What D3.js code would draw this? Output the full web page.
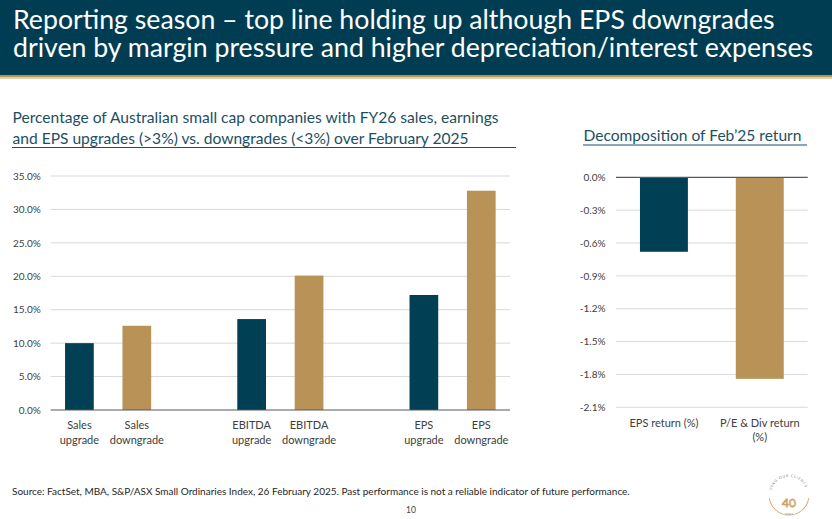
<!DOCTYPE html>
<html>
<head>
<meta charset="utf-8">
<script src="https://cdn.jsdelivr.net/npm/d3@7"></script>
<style>
  html, body { margin: 0; padding: 0; background: #ffffff; }
  svg { display: block; font-family: Lato, "Open Sans", sans-serif; }
</style>
</head>
<body>
<svg id="chart" width="832" height="519"></svg>
<script>
// ---------- DATA ----------
const titleLines = [
  "Reporting season \u2013 top line holding up although EPS downgrades",
  "driven by margin pressure and higher depreciation/interest expenses"
];
const leftSubtitle = [
  "Percentage of Australian small cap companies with FY26 sales, earnings",
  "and EPS upgrades (>3%) vs. downgrades (<3%) over February 2025"
];
const rightSubtitle = "Decomposition of Feb\u201925 return";

// left chart (blank entries are spacer slots between groups)
const leftCategories = ["Sales\nupgrade", "Sales\ndowngrade", "", "EBITDA\nupgrade", "EBITDA\ndowngrade", " ", "EPS\nupgrade", "EPS\ndowngrade"];
const leftValues     = [10.0, 12.6, null, 13.6, 20.1, null, 17.2, 32.8];
const leftTypes      = ["upgrade", "downgrade", null, "upgrade", "downgrade", null, "upgrade", "downgrade"];
const leftTicks      = [0, 5, 10, 15, 20, 25, 30, 35];

// right chart
const rightCategories = ["EPS return (%)", "P/E & Div return\n(%)"];
const rightValues     = [-0.68, -1.84];
const rightTypes      = ["upgrade", "downgrade"];
const rightTicks      = [0, -0.3, -0.6, -0.9, -1.2, -1.5, -1.8, -2.1];

const sourceText = "Source: FactSet, MBA, S&P/ASX Small Ordinaries Index, 26 February 2025. Past performance is not a reliable indicator of future performance.";
const pageNumber = "10";
const logoRing = "SERVING OUR CLIENTS FOR";
const logoNum = "40";
const logoWord = "years";

// ---------- STYLE ----------
const NAVY = "#003f54";
const GOLD = "#b89256";
const HEADER = "#003d52";
const SUBCOL = "#1d4f63";
const TXT = "#404040";
const GRID = "#d9d9d9";
const colorOf = t => t === "upgrade" ? NAVY : GOLD;
const pct = d => (Math.abs(d) < 1e-9 ? 0 : d).toFixed(1) + "%";

const svg = d3.select("#chart");

function fit(sel, target) {
  const n = sel.node();
  const fs = parseFloat(sel.attr("font-size"));
  const w = n.getComputedTextLength();
  if (w > 0) sel.attr("font-size", (fs * target / w).toFixed(2));
}

// ---------- HEADER ----------
svg.append("rect").attr("x", 0).attr("y", 0).attr("width", 832).attr("height", 75.5).attr("fill", HEADER);
svg.append("rect").attr("x", 0).attr("y", 75.5).attr("width", 832).attr("height", 2).attr("fill", "#b8925a");
svg.append("rect").attr("x", 0).attr("y", 77.5).attr("width", 832).attr("height", 1.5).attr("fill", "#e6d2ad");

// measure title size on a temp text, then draw both lines in one text element
const tmp = svg.append("text").attr("font-size", 27).text(titleLines[0]);
fit(tmp, 762);
const titleSize = tmp.attr("font-size");
tmp.remove();
const title = svg.append("text").attr("fill", "#ffffff").attr("font-size", titleSize);
title.selectAll("tspan").data(titleLines).join("tspan")
  .attr("x", 13).attr("y", (d, i) => 28.5 + i * 28.5).text(d => d);

// ---------- LEFT SUBTITLE ----------
const s1 = svg.append("text").attr("x", 12.5).attr("y", 122.5).attr("fill", SUBCOL)
  .attr("font-size", 15).text(leftSubtitle[0]);
fit(s1, 486);
svg.append("text").attr("x", 12.5).attr("y", 143.5).attr("fill", SUBCOL)
  .attr("font-size", s1.attr("font-size")).text(leftSubtitle[1]);
svg.append("line").attr("x1", 12).attr("x2", 516).attr("y1", 147.5).attr("y2", 147.5)
  .attr("stroke", SUBCOL).attr("stroke-width", 1.2);

// ---------- RIGHT SUBTITLE ----------
const rs = svg.append("text").attr("x", 583.5).attr("y", 140.5).attr("fill", SUBCOL)
  .attr("font-size", 15).text(rightSubtitle);
fit(rs, 218);
svg.append("line").attr("x1", 583).attr("x2", 807).attr("y1", 145).attr("y2", 145)
  .attr("stroke", SUBCOL).attr("stroke-width", 1.2);

// ---------- LEFT CHART ----------
const xL = d3.scaleBand().domain(leftCategories).range([50.7, 510]).paddingInner(0.5).paddingOuter(0.25);
const yL = d3.scaleLinear().domain([0, 35]).range([410, 176]);

const gL = svg.append("g");
gL.selectAll("line.grid").data(leftTicks.filter(d => d !== 0)).join("line")
  .attr("x1", 50.7).attr("x2", 510)
  .attr("y1", d => yL(d)).attr("y2", d => yL(d))
  .attr("stroke", GRID).attr("stroke-width", 1);

const axL = gL.append("g").attr("transform", "translate(50.7,0)")
  .call(d3.axisLeft(yL).tickValues(leftTicks).tickFormat(pct).tickSize(0).tickPadding(10));
axL.select(".domain").remove();
axL.selectAll("text").attr("font-size", 10).attr("fill", TXT).attr("font-family", "Lato, sans-serif");

const leftData = leftCategories.map((c, i) => ({ c, v: leftValues[i], t: leftTypes[i] })).filter(d => d.v !== null);
gL.selectAll("rect.bar").data(leftData).join("rect")
  .attr("x", d => xL(d.c)).attr("width", xL.bandwidth())
  .attr("y", d => yL(d.v)).attr("height", d => yL(0) - yL(d.v))
  .attr("fill", d => colorOf(d.t));

gL.append("line").attr("x1", 50.7).attr("x2", 510).attr("y1", yL(0)).attr("y2", yL(0))
  .attr("stroke", "#595959").attr("stroke-width", 1.2);

const lblL = gL.selectAll("text.xl").data(leftData).join("text")
  .attr("text-anchor", "middle").attr("font-size", 11).attr("fill", TXT)
  .attr("transform", d => `translate(${xL(d.c) + xL.bandwidth() / 2},0)`);
lblL.selectAll("tspan").data(d => d.c.split("\n")).join("tspan")
  .attr("x", 0).attr("y", (d, i) => 429 + i * 14.5).text(d => d);

// ---------- RIGHT CHART ----------
const xR = d3.scaleBand().domain(rightCategories).range([616, 807.7]).paddingInner(0.5).paddingOuter(0.25);
const yR = d3.scaleLinear().domain([-2.1, 0]).range([407.3, 177.3]);

const gR = svg.append("g");
gR.selectAll("line.grid").data(rightTicks.filter(d => d !== 0)).join("line")
  .attr("x1", 616).attr("x2", 807.7)
  .attr("y1", d => yR(d)).attr("y2", d => yR(d))
  .attr("stroke", GRID).attr("stroke-width", 1);

const axR = gR.append("g").attr("transform", "translate(616,0)")
  .call(d3.axisLeft(yR).tickValues(rightTicks).tickFormat(pct).tickSize(0).tickPadding(10.5));
axR.select(".domain").remove();
axR.selectAll("text").attr("font-size", 10).attr("fill", TXT).attr("font-family", "Lato, sans-serif");

const rightData = rightCategories.map((c, i) => ({ c, v: rightValues[i], t: rightTypes[i] }));
gR.selectAll("rect.bar").data(rightData).join("rect")
  .attr("x", d => xR(d.c)).attr("width", xR.bandwidth())
  .attr("y", yR(0)).attr("height", d => yR(d.v) - yR(0))
  .attr("fill", d => colorOf(d.t));

gR.append("line").attr("x1", 616).attr("x2", 807.7).attr("y1", yR(0)).attr("y2", yR(0))
  .attr("stroke", "#595959").attr("stroke-width", 1.2);

const lblR = gR.selectAll("text.xl").data(rightData).join("text")
  .attr("text-anchor", "middle").attr("font-size", 11).attr("fill", TXT)
  .attr("transform", d => `translate(${xR(d.c) + xR.bandwidth() / 2},0)`);
lblR.selectAll("tspan").data(d => d.c.split("\n")).join("tspan")
  .attr("x", 0).attr("y", (d, i) => 426.5 + i * 14.5).text(d => d);

// ---------- FOOTER ----------
const src = svg.append("text").attr("x", 12).attr("y", 494.5).attr("fill", "#262626")
  .attr("font-size", 9.5).text(sourceText);
fit(src, 618);
svg.append("text").attr("x", 411).attr("y", 513).attr("text-anchor", "middle")
  .attr("fill", "#404040").attr("font-size", 8.5).text(pageNumber);

// logo
const logo = svg.append("g").attr("transform", "translate(789,495)");
const arc = d3.arc().innerRadius(19.6).outerRadius(20.4);
logo.append("path").attr("d", arc({ startAngle: Math.PI * 0.55, endAngle: Math.PI * 1.45 })).attr("fill", "#c9a46a");
logo.append("path").attr("id", "logoArc").attr("fill", "none")
  .attr("d", "M -17.3,-5 A 18,18 0 0 1 17.3,-5");
logo.append("text").attr("font-size", 3.8).attr("fill", "#7a8e99").attr("letter-spacing", 0.6)
  .append("textPath").attr("href", "#logoArc").attr("startOffset", "50%").attr("text-anchor", "middle")
  .text(logoRing);
logo.append("text").attr("x", 0).attr("y", 12).attr("text-anchor", "middle").attr("font-size", 12)
  .attr("fill", "none").attr("stroke", "#c9a46a").attr("stroke-width", 0.8).text(logoNum);
logo.append("text").attr("x", 0).attr("y", 19.6).attr("text-anchor", "middle").attr("font-size", 3.8)
  .attr("font-style", "italic").attr("fill", "#8aa3b0").text(logoWord);
</script>
</body>
</html>
